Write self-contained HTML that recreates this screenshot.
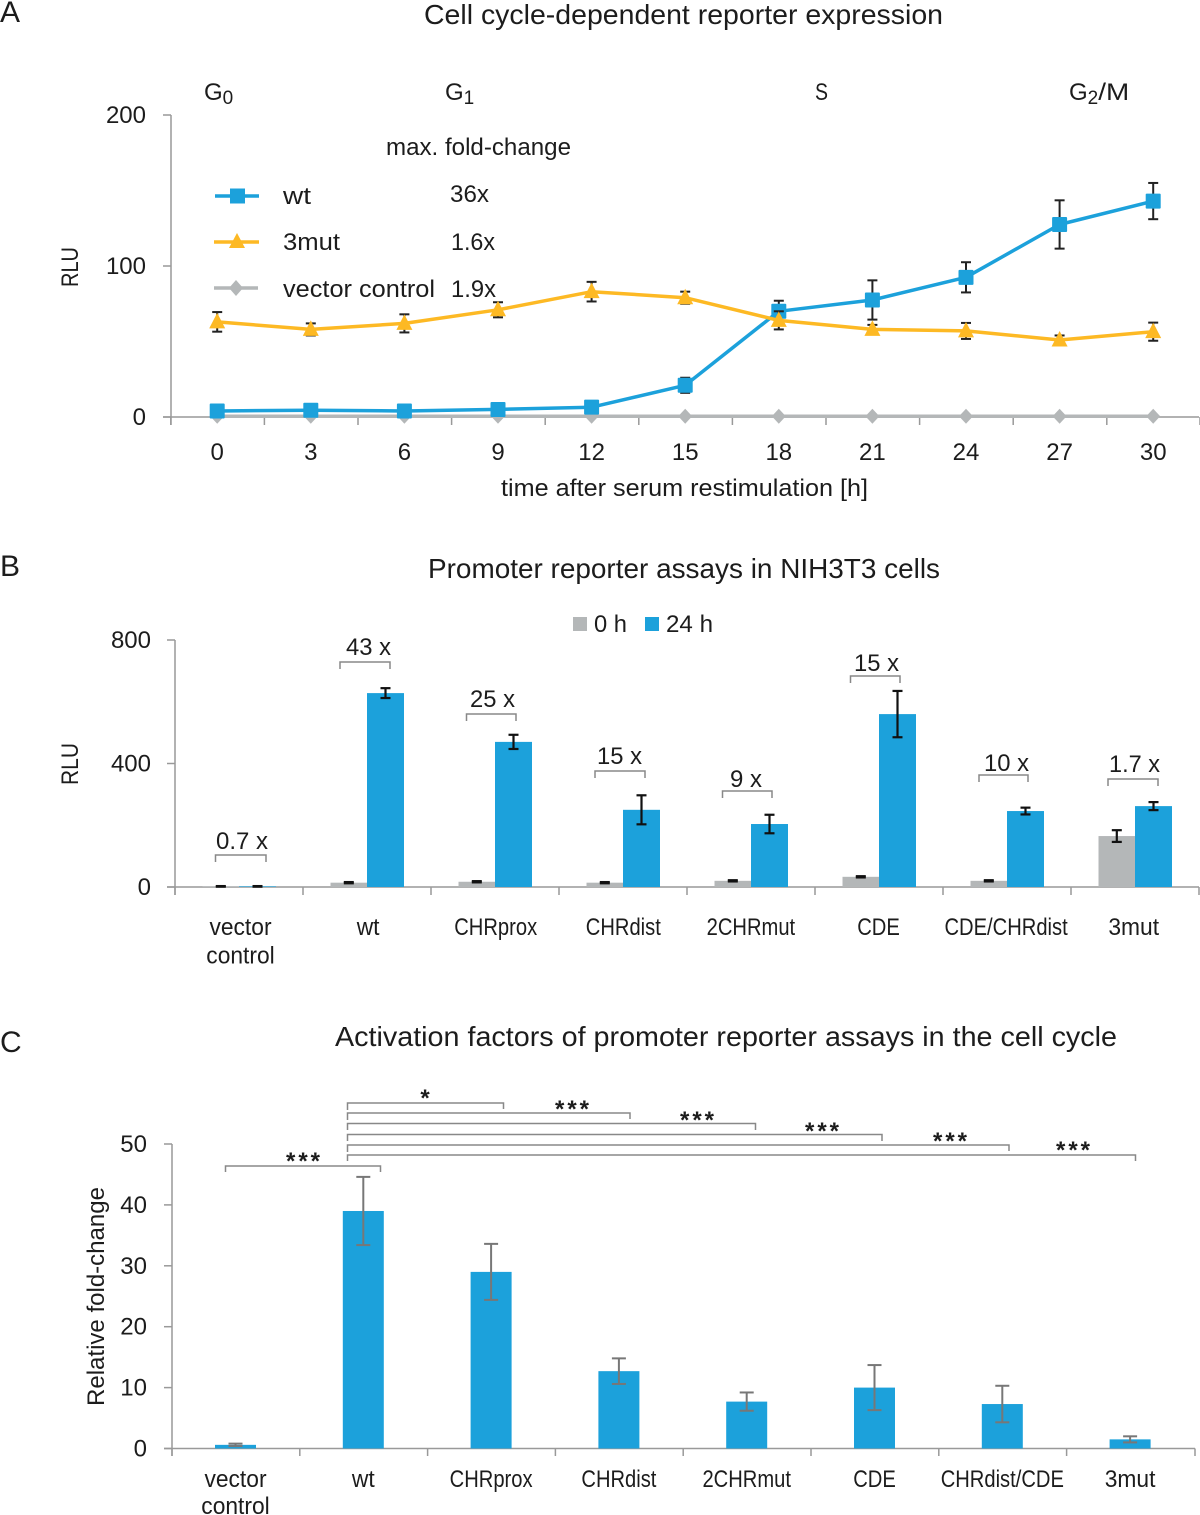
<!DOCTYPE html>
<html lang="en">
<head>
<meta charset="utf-8">
<title>Cell cycle reporter assays</title>
<style>
html,body{margin:0;padding:0;background:#fff;}
svg{display:block;}
text{font-family:"Liberation Sans",sans-serif;fill:#1c1c1c;}
.t{font-size:28px;}
.l{font-size:24px;}
.b{fill:none;stroke:#999;stroke-width:1.5;}
.b2{fill:none;stroke:#888;stroke-width:1.5;}
.s{font-weight:bold;}
</style>
</head>
<body>
<svg id="fig" xmlns="http://www.w3.org/2000/svg" width="1200" height="1515" viewBox="0 0 1200 1515">
  <text x="0" y="22" font-size="30">A</text>
  <text x="0" y="576" font-size="30">B</text>
  <text x="0" y="1052" font-size="30">C</text>

  <text class="t" x="424" y="24" textLength="519" lengthAdjust="spacingAndGlyphs">Cell cycle-dependent reporter expression</text>
  <text class="t" x="428" y="578" textLength="512" lengthAdjust="spacingAndGlyphs">Promoter reporter assays in NIH3T3 cells</text>
  <text class="t" x="335" y="1046" textLength="782" lengthAdjust="spacingAndGlyphs">Activation factors of promoter reporter assays in the cell cycle</text>

  <g>
    <text class="l" x="204" y="100">G<tspan font-size="19" dy="4">0</tspan></text>
    <text class="l" x="445" y="100">G<tspan font-size="19" dy="4">1</tspan></text>
    <text class="l" x="815" y="100" textLength="13" lengthAdjust="spacingAndGlyphs">S</text>
    <text class="l" x="1069" y="100">G<tspan font-size="19" dy="4">2</tspan><tspan dy="-4" textLength="31" lengthAdjust="spacingAndGlyphs">/M</tspan></text>
  </g>

  <g id="legend-a">
    <text class="l" x="386" y="155" textLength="185" lengthAdjust="spacingAndGlyphs">max. fold-change</text>
    <line x1="215" x2="259" y1="196" y2="196" stroke="#1ca1db" stroke-width="3.5"/>
    <rect x="230" y="188.5" width="15" height="15" fill="#1ca1db"/>
    <text class="l" x="283" y="204" textLength="28" lengthAdjust="spacingAndGlyphs">wt</text>
    <text class="l" x="450" y="202" textLength="39" lengthAdjust="spacingAndGlyphs">36x</text>
    <line x1="214" x2="259" y1="242" y2="242" stroke="#fdb924" stroke-width="3.5"/>
    <polygon points="237,233 245,248 229,248" fill="#fdb924"/>
    <text class="l" x="283" y="250" textLength="57" lengthAdjust="spacingAndGlyphs">3mut</text>
    <text class="l" x="451" y="250" textLength="44" lengthAdjust="spacingAndGlyphs">1.6x</text>
    <line x1="214" x2="258" y1="288" y2="288" stroke="#b4b7b8" stroke-width="3.5"/>
    <polygon points="236,280 243,288 236,296 229,288" fill="#b4b7b8"/>
    <text class="l" x="283" y="297" textLength="152" lengthAdjust="spacingAndGlyphs">vector control</text>
    <text class="l" x="451" y="297" textLength="45" lengthAdjust="spacingAndGlyphs">1.9x</text>
  </g>

  <text class="l" x="501" y="496" textLength="367" lengthAdjust="spacingAndGlyphs">time after serum restimulation [h]</text>
  <text class="l" transform="translate(78,287) rotate(-90)" x="0" y="0" textLength="40" lengthAdjust="spacingAndGlyphs">RLU</text>
  <text class="l" transform="translate(78,785) rotate(-90)" x="0" y="0" textLength="42" lengthAdjust="spacingAndGlyphs">RLU</text>
  <text class="l" transform="translate(104,1406) rotate(-90)" x="0" y="0" textLength="219" lengthAdjust="spacingAndGlyphs">Relative fold-change</text>

  <g>
    <rect x="573" y="617" width="14" height="14" fill="#b4b7b8"/>
    <text class="l" x="594" y="632" textLength="33" lengthAdjust="spacingAndGlyphs">0 h</text>
    <rect x="645" y="617" width="14" height="14" fill="#1ca1db"/>
    <text class="l" x="666" y="632" textLength="47" lengthAdjust="spacingAndGlyphs">24 h</text>
  </g>

  <g>
    <path class="b2" d="M215.500 862V855H266V862"/>
    <text class="l" x="216" y="849" textLength="52" lengthAdjust="spacingAndGlyphs">0.7 x</text>
    <path class="b2" d="M340 669V662H390V669"/>
    <text class="l" x="346" y="655" textLength="45" lengthAdjust="spacingAndGlyphs">43 x</text>
    <path class="b2" d="M466.500 721V714H516V721"/>
    <text class="l" x="470" y="707" textLength="45" lengthAdjust="spacingAndGlyphs">25 x</text>
    <path class="b2" d="M595 778V771H645V778"/>
    <text class="l" x="597" y="764" textLength="45" lengthAdjust="spacingAndGlyphs">15 x</text>
    <path class="b2" d="M722.500 798V791H772V798"/>
    <text class="l" x="730" y="787" textLength="32" lengthAdjust="spacingAndGlyphs">9 x</text>
    <path class="b2" d="M850.500 683V676H900V683"/>
    <text class="l" x="854" y="671" textLength="45" lengthAdjust="spacingAndGlyphs">15 x</text>
    <path class="b2" d="M979 782V775H1028V782"/>
    <text class="l" x="984" y="771" textLength="45" lengthAdjust="spacingAndGlyphs">10 x</text>
    <path class="b2" d="M1108 786V779H1158V786"/>
    <text class="l" x="1109" y="772" textLength="51" lengthAdjust="spacingAndGlyphs">1.7 x</text>
  </g>

  <g>
    <path class="b2" d="M347.500 1110V1103H503.500V1109"/>
    <path class="b2" d="M347.500 1120V1113H630V1119"/>
    <path class="b2" d="M347.500 1130V1123.500H755.500V1130"/>
    <path class="b2" d="M347.500 1141V1134.500H882V1141"/>
    <path class="b2" d="M347.500 1152V1145H1009V1151"/>
    <path class="b2" d="M347.500 1161V1155H1135.500V1161"/>
    <path class="b2" d="M225.500 1172V1166H380.500V1172"/>
    <text class="s" x="425" y="1106" font-size="24" text-anchor="middle">*</text>
    <text class="s" x="555" y="1117" font-size="24" textLength="34">***</text>
    <text class="s" x="680" y="1128" font-size="24" textLength="34">***</text>
    <text class="s" x="805" y="1139" font-size="24" textLength="34">***</text>
    <text class="s" x="933" y="1149" font-size="24" textLength="34">***</text>
    <text class="s" x="1056" y="1158" font-size="24" textLength="34">***</text>
    <text class="s" x="286" y="1169" font-size="24" textLength="34">***</text>
  </g>
</svg>

<script>
// ---------- Panel A data ----------
const aTimes = ['0','3','6','9','12','15','18','21','24','27','30'];
const aTicks = [0, 100, 200];
const aWt = [4, 4.5, 4, 5, 6.500, 21, 70, 77.500, 92.500, 127.500, 143];
const aWtErr = [1, 1, 1, 1, 1, 5, 7, 13, 10, 16, 12];
const aMut = [63, 58, 62, 71, 83, 79, 64, 58, 57, 51, 56.500];
const aMutErr = [6.500, 4, 6, 5, 6.500, 4, 6, 3, 5.300, 3, 6];
const aVector = [0.5, 0.5, 0.5, 0.5, 0.5, 0.5, 0.5, 0.5, 0.5, 0.5, 0.5];

// ---------- Panel B data ----------
const bCategories = [['vector','control'],['wt'],['CHRprox'],['CHRdist'],['2CHRmut'],['CDE'],['CDE/CHRdist'],['3mut']];
const bTicks = [0, 400, 800];
const b0h = [2, 14, 17, 14, 20, 33, 20, 165];
const b0hErr = [1, 2, 2, 2, 2, 2, 2, 19];
const b24h = [2, 628, 470, 250, 204, 560, 246, 262];
const b24hErr = [1, 16, 23, 47, 30, 75, 11, 13];

// ---------- Panel C data ----------
const cCategories = [['vector','control'],['wt'],['CHRprox'],['CHRdist'],['2CHRmut'],['CDE'],['CHRdist/CDE'],['3mut']];
const cTicks = [0, 10, 20, 30, 40, 50];
const cValues = [0.6, 39, 29, 12.700, 7.700, 10, 7.300, 1.500];
const cErr = [0.2, 5.600, 4.600, 2.100, 1.500, 3.700, 3, 0.5];

const NS = 'http://www.w3.org/2000/svg';
const fig = document.getElementById('fig');
const BLUE = '#1ca1db', ORANGE = '#fdb924', GREY = '#b4b7b8', AXIS = '#999';

function mk(tag, attrs, parent) {
  const el = document.createElementNS(NS, tag);
  for (const k in attrs) el.setAttribute(k, attrs[k]);
  (parent || fig).appendChild(el);
  return el;
}
function group() { return mk('g', {}); }
function slug(s) { return String(s).toLowerCase().replace(/[^a-z0-9]+/g, '-'); }
function wordSqueeze(s) { return /[A-Z]{2}/.test(s) ? 0.84 : 0.95; }

function addText(str, x, y, anchor, squeeze, parent) {
  const t = mk('text', {x: x, y: y, 'font-size': 24, 'text-anchor': anchor}, parent);
  t.textContent = str;
  if (squeeze !== 1) {
    t.setAttribute('textLength', (t.getComputedTextLength() * squeeze).toFixed(1));
    t.setAttribute('lengthAdjust', 'spacingAndGlyphs');
  }
  return t;
}
function addLine(x1, y1, x2, y2, stroke, w, parent) {
  return mk('line', {x1: x1, y1: y1, x2: x2, y2: y2, stroke: stroke, 'stroke-width': w}, parent);
}
function errorBar(cx, yTop, yBot, cap, stroke, w, parent) {
  const g = mk('g', {}, parent);
  addLine(cx, yTop, cx, yBot, stroke, w, g);
  addLine(cx - cap / 2, yTop, cx + cap / 2, yTop, stroke, w, g);
  addLine(cx - cap / 2, yBot, cx + cap / 2, yBot, stroke, w, g);
  return g;
}

// ---------- Panel A axes ----------
const ax = i => 217.2 + 93.6 * i;
const ay = v => 417 - v * 1.51;

const aAxes = group();


addLine(171, ay(200), 171, 425, AXIS, 1.5, aAxes);
addLine(163, 417, 1199, 417, AXIS, 1.5, aAxes);
aTimes.forEach((t, i) => {
  addLine(ax(i) - 46.4, 417, ax(i) - 46.4, 425, AXIS, 1.5, aAxes);
  const lab = addText(t, ax(i), 460, 'middle', 1, aAxes);
  
  
});
addLine(ax(aTimes.length - 1) + 46.8, 417, ax(aTimes.length - 1) + 46.8, 425, AXIS, 1.5, aAxes);
aTicks.forEach(v => {
  addLine(163, ay(v), 171, ay(v), AXIS, 1.5, aAxes);
  const lab = addText(v, 146, ay(v) + 8, 'end', 1, aAxes);
  
  
});

function polyline(values, color, parent) {
  return mk('polyline', {
    points: values.map((v, i) => ax(i).toFixed(1) + ',' + ay(v).toFixed(1)).join(' '),
    fill: 'none', stroke: color, 'stroke-width': 3.5, 'stroke-linejoin': 'round'
  }, parent);
}

// vector control series
const gVector = group();


polyline(aVector, GREY, gVector);
aVector.forEach((v, i) => {
  const x = ax(i), y = ay(v);
  const p = mk('polygon', {points: `${x},${y-7.5} ${x+7},${y} ${x},${y+7.5} ${x-7},${y}`, fill: GREY}, gVector);
  
  
});

// wt series
const gWt = group();


aWt.forEach((v, i) => {
  const e = errorBar(ax(i), ay(v + aWtErr[i]), ay(v - aWtErr[i]), 10, '#222', 2, gWt);
  
  
});
polyline(aWt, BLUE, gWt);
aWt.forEach((v, i) => {
  const r = mk('rect', {x: ax(i) - 7.5, y: ay(v) - 7.5, width: 15, height: 15, rx: 1, fill: BLUE}, gWt);
  
  
});

// 3mut series
const gMut = group();


aMut.forEach((v, i) => {
  const e = errorBar(ax(i), ay(v + aMutErr[i]), ay(v - aMutErr[i]), 10, '#222', 2, gMut);
  
  
});
polyline(aMut, ORANGE, gMut);
aMut.forEach((v, i) => {
  const x = ax(i), y = ay(v);
  const p = mk('polygon', {points: `${x},${y-9} ${x+8},${y+6.5} ${x-8},${y+6.5}`, fill: ORANGE}, gMut);
  
  
});

// ---------- Panel B axes ----------
const bx = i => 239 + 128 * i;
const by = v => 887 - v * 0.30875;

const bAxes = group();



const gB0 = group();


const gB24 = group();



bCategories.forEach((c, i) => {
  const r0 = mk('rect', {x: bx(i) - 36.5, y: by(b0h[i]), width: 36.5, height: 887 - by(b0h[i]), fill: GREY}, gB0);
  
  
  const e0 = errorBar(bx(i) - 18.2, by(b0h[i] + b0hErr[i]), by(b0h[i] - b0hErr[i]), 10, '#111', 2.2, gB0);
  
  
  const r1 = mk('rect', {x: bx(i), y: by(b24h[i]), width: 37, height: 887 - by(b24h[i]), fill: BLUE}, gB24);
  
  
  const e1 = errorBar(bx(i) + 18.5, by(b24h[i] + b24hErr[i]), by(b24h[i] - b24hErr[i]), 10, '#111', 2.2, gB24);
  
  
  addLine(175 + 128 * i, 887, 175 + 128 * i, 895, AXIS, 1.5, bAxes);
  c.forEach((line, k) => {
    const lab = addText(line, 240.5 + 127.6 * i, 935 + k * 28.5, 'middle', wordSqueeze(line), bAxes);
    
    
  });
});
addLine(1199, 887, 1199, 895, AXIS, 1.5, bAxes);
addLine(175, by(800), 175, 895, AXIS, 1.5, bAxes);
addLine(167, 887, 1199, 887, AXIS, 1.5, bAxes);
bTicks.forEach(v => {
  addLine(167, by(v), 175, by(v), AXIS, 1.5, bAxes);
  const lab = addText(v, 151, by(v) + 8, 'end', 1, bAxes);
  
  
});

// ---------- Panel C axes ----------
const cx = i => 235.5 + 127.8 * i;
const cy = v => 1448.5 - v * 6.09;

const cAxes = group();


const gC = group();



cCategories.forEach((c, i) => {
  const r = mk('rect', {x: cx(i) - 20.5, y: cy(cValues[i]), width: 41, height: 1448.5 - cy(cValues[i]), fill: BLUE}, gC);
  
  
  const e = errorBar(cx(i), cy(cValues[i] + cErr[i]), cy(cValues[i] - cErr[i]), 14, '#777', 2, gC);
  
  
  addLine(172 + 127.8 * i, 1448.5, 172 + 127.8 * i, 1456, AXIS, 1.5, cAxes);
  c.forEach((line, k) => {
    const lab = addText(line, cx(i), 1487 + k * 27, 'middle', wordSqueeze(line), cAxes);
    
    
  });
});
addLine(1195, 1448.5, 1195, 1456, AXIS, 1.5, cAxes);
addLine(172, cy(50), 172, 1456, AXIS, 1.5, cAxes);
addLine(164, 1448.5, 1195, 1448.5, AXIS, 1.5, cAxes);
cTicks.forEach(v => {
  addLine(164, cy(v), 172, cy(v), AXIS, 1.5, cAxes);
  const lab = addText(v, 147, cy(v) + 8, 'end', 1, cAxes);
  
  
});
</script>
</body>
</html>
